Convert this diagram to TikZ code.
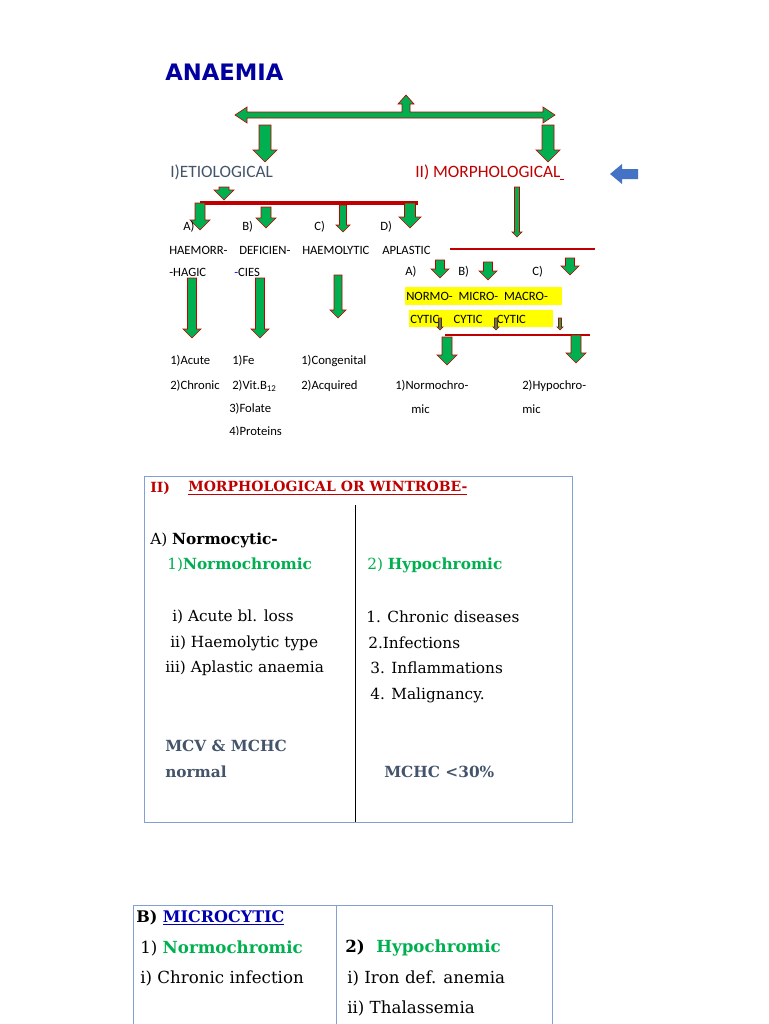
\documentclass[tikz,border=0pt]{standalone}
\usepackage{fontspec}
\setmainfont{DejaVu Serif}
\newfontfamily\carl{Carlito}
\newfontfamily\dvs{DejaVu Sans}
\definecolor{gr}{RGB}{0,176,80}
\definecolor{dr}{RGB}{192,0,0}
\definecolor{sl}{RGB}{68,84,106}
\definecolor{ab}{RGB}{68,114,196}
\definecolor{bx}{RGB}{130,160,210}
\definecolor{yl}{RGB}{255,255,0}
\newcommand\dn[4][10]{% x, ytop, ybot
\pgfmathsetmacro\hw{#1/2}\pgfmathsetmacro\hh{#1}
\filldraw[fill=gr,draw=dr,line width=0.5pt] (#2-\hw,#3)--(#2+\hw,#3)--(#2+\hw,#4-\hh)--(#2+\hh,#4-\hh)--(#2,#4)--(#2-\hh,#4-\hh)--(#2-\hw,#4-\hh)--cycle;}
\begin{document}
\begin{tikzpicture}[x=0.75pt,y=-0.75pt,
 s/.style={anchor=west,inner sep=0pt,font=\carl\fontsize{9.5}{11}\selectfont},
 t/.style={anchor=west,inner sep=0pt,font=\fontsize{11.5}{13}\selectfont}]
\useasboundingbox (0,0) rectangle (768,1024);
\fill[white] (0,0) rectangle (768,1024);
\node[anchor=west,inner sep=0pt,font=\dvs\bfseries\fontsize{17}{20}\selectfont,text={rgb,255:red,0;green,0;blue,160}] (ti) at (165,72) {ANAEMIA};
% top double arrow
\filldraw[fill=gr,draw=dr,line width=0.5pt] (235,115)--(247,107)--(247,112)--(402,112)--(402,104)--(398,104)--(406,95)--(414,104)--(410,104)--(410,112)--(543,112)--(543,107)--(555,115)--(543,123)--(543,118)--(247,118)--(247,123)--cycle;
\dn[12]{265}{125}{162}\dn[12]{548}{125}{162}
\node[anchor=west,inner sep=0pt,font=\carl\fontsize{13}{15}\selectfont,text=sl] at (170,172) {I)ETIOLOGICAL};
\node[anchor=west,inner sep=0pt,font=\carl\fontsize{13}{15}\selectfont,text=dr] at (415,172) {II) MORPHOLOGICAL\underline{\ }};
\fill[ab] (610,174)--(622,164)--(622,169)--(638,169)--(638,179)--(622,179)--(622,184)--cycle;
\dn{224}{187}{200}
\draw[dr,line width=2.5pt] (200,203)--(418,203);
\dn{200}{203}{230}\dn{266}{207}{228}\dn[7]{343}{205}{232}\dn[11]{410}{203}{228}
\node[s] at (183,227) {A)};\node[s] at (242,227) {B)};\node[s] at (314,227) {C)};\node[s] at (380,227) {D)};
\node[s] at (169,250) {HAEMORR-};\node[s] at (239,250) {DEFICIEN-};\node[s] at (302,250) {HAEMOLYTIC};\node[s] at (382,250) {APLASTIC};
\node[s] at (169,272) {-HAGIC};\node[s] at (234,272) {\textcolor{blue}{-}CIES};
\dn[9]{192}{278}{338}\dn[9]{260}{278}{338}\dn[8]{338}{275}{318}
\dn[5]{517}{187}{237}
\draw[dr,line width=2pt] (450,249)--(595,249);
\node[s] at (405,272) {A)};\node[s] at (458,272) {B)};\node[s] at (532,272) {C)};
\dn[9]{440}{260}{278}\dn[9]{488}{262}{280}\dn[9]{570}{258}{275}
\fill[yl] (405,287) rectangle (562,305);\fill[yl] (409,310) rectangle (553,327);
\node[s] at (406,296) {NORMO-\ \ MICRO-\ \ MACRO-};
\node[s] at (410,319) {CYTIC\ \ \ \ \ CYTIC\ \ \ \ \ CYTIC};
\dn[3]{440}{318}{330}\dn[3]{496}{318}{330}\dn[3]{560}{318}{330}
\draw[dr,line width=2pt] (445,335)--(590,335);
\dn[10]{447}{337}{365}\dn[10]{576}{335}{363}
\node[s] at (170,361) {1)Acute};\node[s] at (170,386) {2)Chronic};
\node[s] at (232,361) {1)Fe};\node[s] at (232,386) {2)Vit.B\textsubscript{12}};\node[s] at (229,409) {3)Folate};
\begin{scope}\clip (220,420) rectangle (320,434);\node[s] at (229,432) {4)Proteins};\end{scope}
\node[s] at (301,361) {1)Congenital};\node[s] at (301,386) {2)Acquired};
\node[s] at (395,386) {1)Normochro-};\node[s] at (411,409) {mic};
\node[s] at (522,386) {2)Hypochro-};\node[s] at (522,409) {mic};
% box 1
\draw[bx] (144,476) rectangle (572,822);
\draw[black] (355,505)--(355,822);
\node[anchor=west,inner sep=0pt,font=\bfseries\fontsize{10.5}{12}\selectfont,text=dr] at (150,488) {II)};
\node[anchor=west,inner sep=0pt,font=\bfseries\fontsize{10.5}{12}\selectfont,text=dr] at (188,488) {\underline{MORPHOLOGICAL OR WINTROBE-}};
\node[t] at (150,540) {A) \textbf{Normocytic-}};
\node[t,text=gr] at (167,565) {1)\textbf{Normochromic}};
\node[t,text=gr] at (367,565) {2) \textbf{Hypochromic}};
\node[t] at (172,617) {i) Acute bl. loss};
\node[t] at (170,643) {ii) Haemolytic type};
\node[t] at (165,668) {iii) Aplastic anaemia};
\node[t] at (366,617) {1. Chronic diseases};
\node[t] at (368,643) {2.Infections};
\node[t] at (370,668) {3. Inflammations};
\node[t] at (370,695) {4. Malignancy.};
\node[t,text=sl,font=\bfseries\fontsize{11.5}{13}\selectfont] at (165,746) {MCV \& MCHC};
\node[t,text=sl,font=\bfseries\fontsize{11.5}{13}\selectfont] at (165,772) {normal};
\node[t,text=sl,font=\bfseries\fontsize{11.5}{13}\selectfont] at (384,772) {MCHC <30\%};
% box 2
\draw[bx] (133,905)--(552,905)--(552,1030) (133,905)--(133,1030);
\draw[bx] (336,905)--(336,1030);
\node[t,font=\bfseries\fontsize{12}{14}\selectfont] at (136,918) {B) \textcolor{blue!70!black}{\underline{MICROCYTIC}}};
\node[t,font=\fontsize{12.5}{14}\selectfont] at (140,948) {1) \textcolor{gr}{\textbf{Normochromic}}};
\node[t,font=\bfseries\fontsize{12.5}{14}\selectfont] at (345,948) {2)\ \ \textcolor{gr}{Hypochromic}};
\node[t,font=\fontsize{12.5}{14}\selectfont] at (140,978) {i) Chronic infection};
\node[t,font=\fontsize{12.5}{14}\selectfont] at (347,978) {i) Iron def. anemia};
\node[t,font=\fontsize{12.5}{14}\selectfont] at (347,1008) {ii) Thalassemia};
\end{tikzpicture}
\end{document}
